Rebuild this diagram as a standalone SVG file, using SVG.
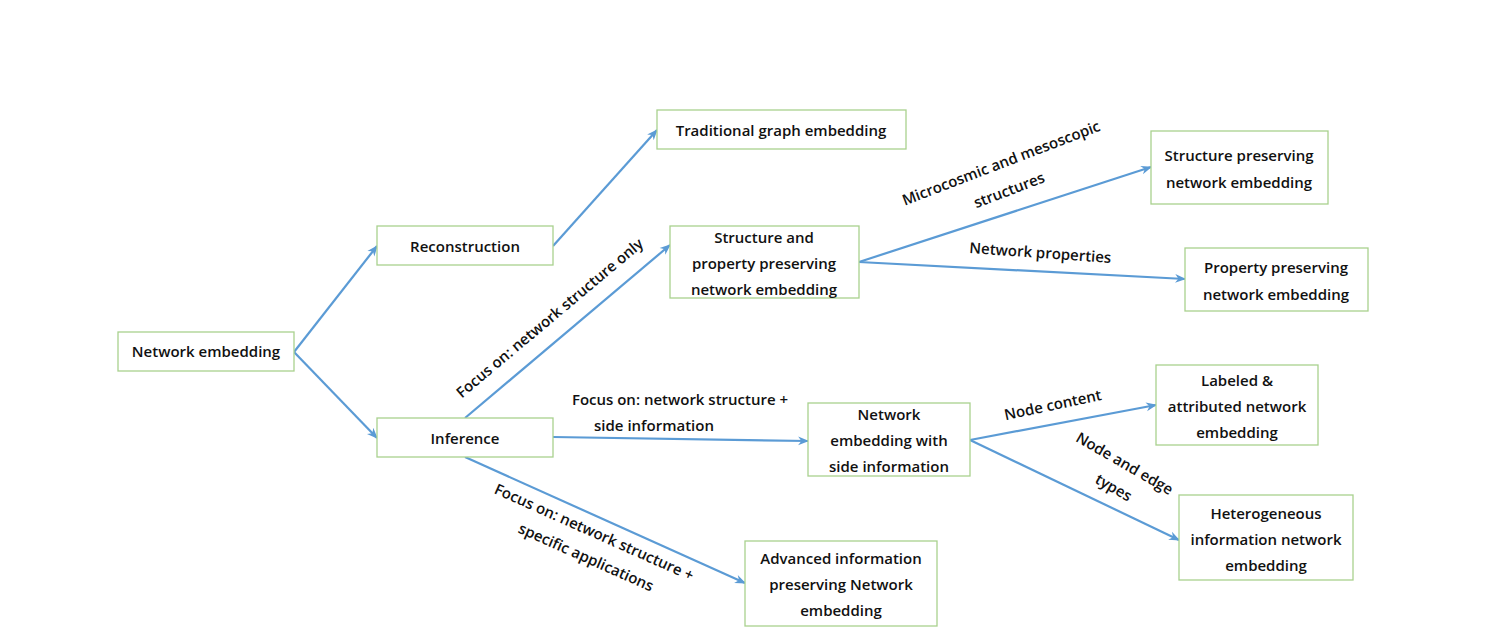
<svg xmlns="http://www.w3.org/2000/svg" width="1500" height="636" viewBox="0 0 1500 636">
<style>
.b{fill:#fff;stroke:#A9D18E;stroke-width:1.3}
text{font-family:"Open Sans","Liberation Sans",sans-serif;font-size:15px;font-weight:600;fill:#111;text-anchor:middle}
.c{stroke:#5B9BD5;stroke-width:2.2;fill:none;marker-end:url(#a)}
</style>
<defs><marker id="a" viewBox="0 0 10 10" refX="9" refY="5" markerWidth="5" markerHeight="5" orient="auto" markerUnits="strokeWidth"><path d="M0,1 L10,5 L0,9 L3,5 Z" fill="#5B9BD5"/></marker></defs>
<rect width="1500" height="636" fill="#fff"/>
<g id="connectors">
<line class="c" x1="294" y1="352" x2="377" y2="246"/>
<line class="c" x1="294" y1="352" x2="377" y2="438"/>
<line class="c" x1="553" y1="246" x2="657" y2="130"/>
<line class="c" x1="465" y1="418" x2="670" y2="245"/>
<line class="c" x1="553" y1="437" x2="808" y2="441"/>
<line class="c" x1="465" y1="457" x2="745" y2="583"/>
<line class="c" x1="859" y1="262" x2="1151" y2="167"/>
<line class="c" x1="859" y1="262" x2="1185" y2="279"/>
<line class="c" x1="970" y1="440" x2="1156" y2="405"/>
<line class="c" x1="970" y1="440" x2="1179" y2="540"/>
<text transform="translate(553,322) rotate(-40)">Focus on: network structure only</text>
<text transform="translate(1003,168) rotate(-21)">Microcosmic and mesoscopic</text>
<text transform="translate(1011,195) rotate(-21)">structures</text>
<text transform="translate(1040,258) rotate(4)">Network properties</text>
<text transform="translate(1054,410) rotate(-12)">Node content</text>
<text transform="translate(1122,468) rotate(30)">Node and edge</text>
<text transform="translate(1111,492) rotate(30)">types</text>
<text x="680" y="405">Focus on: network structure +</text>
<text x="654" y="431">side information</text>
<text transform="translate(592,537) rotate(24)">Focus on: network structure +</text>
<text transform="translate(584,562) rotate(24)">specific applications</text>
</g>
<g id="n1"><rect class="b" x="118" y="332" width="176" height="39"/><text x="206" y="357">Network embedding</text></g>
<g id="n2"><rect class="b" x="377" y="226" width="176" height="39"/><text x="465" y="252">Reconstruction</text></g>
<g id="n3"><rect class="b" x="377" y="418" width="176" height="39"/><text x="465" y="444">Inference</text></g>
<g id="n4"><rect class="b" x="657" y="110" width="249" height="39"/><text x="781" y="136">Traditional graph embedding</text></g>
<g id="n5"><rect class="b" x="670" y="226" width="189" height="72"/><text x="764" y="243">Structure and</text><text x="764" y="269">property preserving</text><text x="764" y="295">network embedding</text></g>
<g id="n6"><rect class="b" x="1151" y="131" width="177" height="73"/><text x="1239" y="161">Structure preserving</text><text x="1239" y="188">network embedding</text></g>
<g id="n7"><rect class="b" x="1185" y="248" width="183" height="63"/><text x="1276" y="273">Property preserving</text><text x="1276" y="300">network embedding</text></g>
<g id="n8"><rect class="b" x="808" y="403" width="162" height="73"/><text x="889" y="420">Network</text><text x="889" y="446">embedding with</text><text x="889" y="472">side information</text></g>
<g id="n9"><rect class="b" x="1156" y="365" width="162" height="80"/><text x="1237" y="386">Labeled &amp;</text><text x="1237" y="412">attributed network</text><text x="1237" y="438">embedding</text></g>
<g id="n10"><rect class="b" x="1179" y="495" width="174" height="85"/><text x="1266" y="519">Heterogeneous</text><text x="1266" y="545">information network</text><text x="1266" y="571">embedding</text></g>
<g id="n11"><rect class="b" x="745" y="541" width="192" height="85"/><text x="841" y="564">Advanced information</text><text x="841" y="590">preserving Network</text><text x="841" y="616">embedding</text></g>
</svg>
